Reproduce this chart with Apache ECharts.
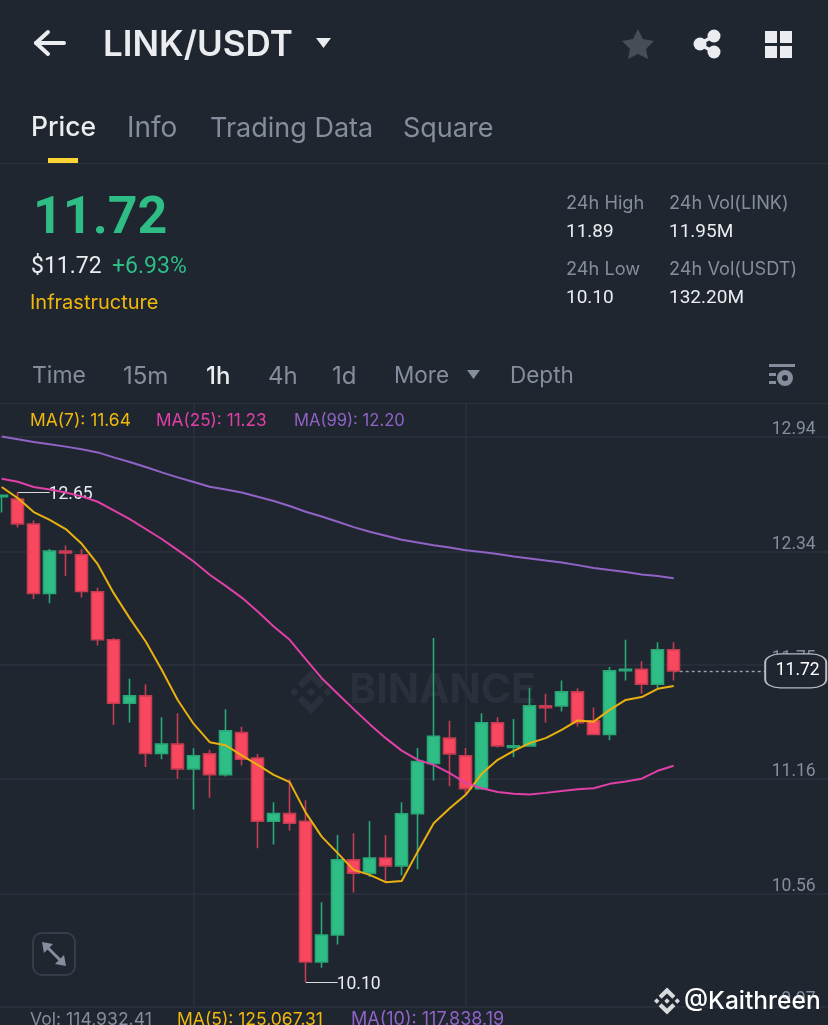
<!DOCTYPE html>
<html>
<head>
<meta charset="utf-8">
<title>LINK/USDT</title>
<script src="https://cdn.jsdelivr.net/npm/echarts@6/dist/echarts.min.js"></script>
<style>
  html, body { margin: 0; padding: 0; background: #1f2630; overflow: hidden; }
  #chart { width: 828px; height: 1025px; }
</style>
</head>
<body>
<div id="chart"></div>
<script>
// candles (oldest first)
const opens = [12.627,12.615,12.485,12.123,12.344,12.325,12.132,11.882,11.552,11.590,11.290,11.339,11.210,11.288,11.180,11.399,11.267,10.937,10.977,10.937,10.204,10.345,10.736,10.667,10.746,10.705,10.977,11.238,11.370,11.278,11.107,11.450,11.321,11.330,11.538,11.538,11.611,11.460,11.389,11.721,11.729,11.651,11.830]
const closes = [12.635,12.486,12.123,12.344,12.334,12.134,11.882,11.552,11.590,11.290,11.339,11.210,11.278,11.180,11.408,11.260,10.937,10.977,10.927,10.204,10.345,10.736,10.667,10.746,10.705,10.976,11.248,11.380,11.288,11.107,11.450,11.330,11.330,11.538,11.529,11.611,11.451,11.389,11.721,11.729,11.651,11.830,11.720]
const lows = [12.545,12.467,12.094,12.073,12.214,12.102,11.852,11.439,11.451,11.220,11.260,11.159,10.998,11.059,11.170,11.228,10.797,10.816,10.889,10.100,10.175,10.295,10.566,10.647,10.623,10.656,10.687,11.149,11.120,11.080,11.101,11.321,11.271,11.330,11.451,11.509,11.430,11.385,11.359,11.670,11.601,11.630,11.670]
const highs = [12.638,12.650,12.504,12.355,12.373,12.355,12.153,11.891,11.679,11.651,11.479,11.500,11.318,11.309,11.521,11.429,11.287,11.036,11.156,11.047,10.515,10.866,10.875,10.939,10.866,11.036,11.319,11.891,11.460,11.319,11.500,11.479,11.470,11.630,11.601,11.670,11.630,11.529,11.741,11.882,11.771,11.870,11.870]

const ma7 = [12.678,12.620,12.547,12.507,12.459,12.382,12.276,12.125,11.995,11.873,11.726,11.569,11.444,11.349,11.333,11.280,11.231,11.179,11.141,10.982,10.857,10.771,10.684,10.658,10.620,10.626,10.779,10.927,11.005,11.075,11.184,11.257,11.304,11.344,11.370,11.413,11.462,11.456,11.517,11.569,11.584,11.627,11.642]
const ma25 = [12.721,12.705,12.678,12.665,12.649,12.629,12.601,12.556,12.511,12.459,12.407,12.349,12.290,12.221,12.163,12.102,12.030,11.951,11.882,11.781,11.682,11.601,11.521,11.443,11.370,11.305,11.257,11.231,11.188,11.137,11.109,11.090,11.080,11.076,11.085,11.095,11.104,11.109,11.132,11.144,11.159,11.200,11.226]
const ma99 = [12.941,12.926,12.912,12.900,12.888,12.874,12.858,12.832,12.808,12.782,12.754,12.728,12.704,12.679,12.665,12.649,12.627,12.605,12.579,12.549,12.524,12.497,12.469,12.445,12.424,12.403,12.389,12.375,12.363,12.349,12.339,12.329,12.316,12.306,12.295,12.285,12.271,12.256,12.245,12.235,12.222,12.214,12.203]

const priceTicks = [9.97,10.56,11.16,11.75,12.34,12.94]
const slots = Array.from({ length: 53 }, (_, i) => String(i)) // 43 candles, rest is empty room on the right
const lastPrice = 11.72
const highMark = { slot: 1, end: 3, price: 12.65 }
const lowMark = { slot: 19, end: 21, price: 10.10 }
const crossSlots = [12, 29]

const BG = '#1f2630'
const GREEN = '#2ebd85'
const RED = '#f9475f'
const GRID = '#2b323c'
const GREY = '#848e9c'
const WHITE = '#eaecef'
const YELLOW = '#f0b90b'
const PINK = '#e040a8'
const PURPLE = '#9163c6'
const FONT = 'Inter, Roboto, sans-serif'
const NUM_FONT = 'Roboto, Inter, sans-serif'

const chart = echarts.init(document.getElementById('chart'), null, { renderer: 'canvas' })

function label(x, y, text, color, size, weight, z, font) {
  return {
    type: 'text', x: x, y: y + 1.5, z: z || 10,
    style: { text: text, fill: color, font: (weight || 400) + ' ' + size + 'px ' + (font || FONT), textAlign: 'left', textVerticalAlign: 'middle' }
  }
}

function num(x, y, text, color, size, weight) {
  return label(x, y, text, color, size, weight, 10, NUM_FONT)
}

function poly(points, color, z) {
  return { type: 'polygon', z: z || 10, shape: { points: points }, style: { fill: color } }
}

function stroke(points, color, width) {
  return { type: 'polyline', z: 10, shape: { points: points }, style: { stroke: color, lineWidth: width, fill: null, lineCap: 'round', lineJoin: 'round' } }
}

function disc(cx, cy, r, color) {
  return { type: 'circle', z: 10, shape: { cx: cx, cy: cy, r: r }, style: { fill: color } }
}

function box(x, y, w, h, color) {
  return { type: 'rect', z: 10, shape: { x: x, y: y, width: w, height: h }, style: { fill: color } }
}

// exchange logo, made of five pieces
function logo(cx, cy, s, color, z) {
  const at = pts => pts.map(p => [cx + p[0] * s, cy + p[1] * s])
  const diamond = (dx, r) => at([[dx, -r], [dx + r, 0], [dx, r], [dx - r, 0]])
  return [
    poly(diamond(0, 0.2), color, z),
    poly(diamond(-0.76, 0.2), color, z),
    poly(diamond(0.76, 0.2), color, z),
    poly(at([[-0.62, -0.38], [0, -1], [0.62, -0.38], [0.4, -0.16], [0, -0.56], [-0.4, -0.16]]), color, z),
    poly(at([[-0.62, 0.38], [0, 1], [0.62, 0.38], [0.4, 0.16], [0, 0.56], [-0.4, 0.16]]), color, z)
  ]
}

const headerItems = [
  // top bar
  stroke([[36, 43], [64, 43]], WHITE, 4),
  stroke([[48, 32], [36, 43], [48, 54]], WHITE, 4),
  label(103, 44, 'LINK/USDT', WHITE, 35, 600),
  poly([[316, 38], [331, 38], [323.5, 48]], WHITE),
  poly([[638, 29], [643, 39], [654, 41], [646, 49], [648, 59], [638, 54], [628, 59], [630, 49], [622, 41], [633, 39]], '#474d57'),
  stroke([[714, 36], [699, 44], [714, 52]], WHITE, 3.5),
  disc(714, 36, 6.5, WHITE),
  disc(700, 44, 6.5, WHITE),
  disc(714, 52, 6.5, WHITE),
  box(765, 31, 12, 12, WHITE),
  box(780, 31, 12, 12, WHITE),
  box(765, 46, 12, 12, WHITE),
  box(780, 46, 12, 12, WHITE),

  // tabs
  label(31, 127, 'Price', WHITE, 26.5, 500),
  label(127, 127, 'Info', GREY, 28, 400),
  label(210, 127, 'Trading Data', GREY, 27, 400),
  label(403, 127, 'Square', GREY, 27, 400),
  box(48, 158, 30, 5, '#fcd535'),
  box(0, 163, 828, 1, GRID),

  // price block
  num(33, 218, '11.72', GREEN, 52, 700),
  num(31, 266, '$11.72', WHITE, 23, 400),
  num(112, 266, '+6.93%', GREEN, 23, 400),
  label(30, 301, 'Infrastructure', YELLOW, 20, 400),
  label(566, 202, '24h High', GREY, 18.2, 400),
  num(566, 231, '11.89', WHITE, 19, 400),
  label(669, 202, '24h Vol(LINK)', GREY, 18.2, 400),
  num(669, 231, '11.95M', WHITE, 19, 400),
  label(566, 268, '24h Low', GREY, 18.2, 400),
  num(566, 297, '10.10', WHITE, 19, 400),
  label(669, 268, '24h Vol(USDT)', GREY, 18.2, 400),
  num(669, 297, '132.20M', WHITE, 19, 400),

  // intervals
  label(32, 375, 'Time', GREY, 23, 400),
  label(123, 375, '15m', GREY, 24, 400),
  label(206, 375, '1h', WHITE, 24, 500),
  label(268, 375, '4h', GREY, 24, 400),
  label(332, 375, '1d', GREY, 24, 400),
  label(394, 375, 'More', GREY, 22.5, 400),
  poly([[467, 370], [480, 370], [473.5, 379]], GREY),
  label(510, 375, 'Depth', GREY, 22.5, 400),
  box(769, 364, 26, 3, GREY),
  box(769, 373, 7, 3, GREY),
  box(769, 381, 7, 3, GREY),
  { type: 'circle', z: 10, shape: { cx: 785, cy: 378, r: 5.5 }, style: { fill: BG, stroke: GREY, lineWidth: 5 } },
  box(0, 403, 828, 1, GRID),

  // MA legend
  label(30, 419, 'MA(7): 11.64', YELLOW, 17.4, 400),
  label(156, 419, 'MA(25): 11.23', PINK, 17.2, 400),
  label(294, 419, 'MA(99): 12.20', PURPLE, 16.6, 400),

  // watermark under the candles
  label(349, 689, 'BINANCE', '#2a313c', 41, 700, -1),

  // expand button
  { type: 'rect', z: 10, shape: { x: 33, y: 933, width: 42, height: 42, r: 9 }, style: { fill: BG, stroke: '#363d48', lineWidth: 2 } },
  poly([[42, 942], [53, 944], [44, 953]], GREY),
  poly([[66, 966], [55, 964], [64, 955]], GREY),
  stroke([[46, 946], [62, 962]], GREY, 3),

  // volume line
  label(30, 1018, 'Vol: 114,932.41', GREY, 17.6, 400),
  label(177, 1018, 'MA(5): 125,067.31', YELLOW, 17.5, 400),
  label(351, 1018, 'MA(10): 117,838.19', PURPLE, 18, 400),

  // credit
  label(684, 1000, '@Kaithreen', '#ffffff', 24.5, 500, 20)
].concat(logo(311, 692, 22, '#2a313c', -1), logo(667, 1001, 13.5, '#d8dade', 20))

function maSeries(name, values, color) {
  return {
    name: name,
    type: 'line',
    data: values,
    showSymbol: false,
    smooth: false,
    z: 4,
    lineStyle: { color: color, width: 2 }
  }
}

const option = {
  animation: false,
  backgroundColor: BG,
  textStyle: { fontFamily: FONT },
  grid: { left: -6.3, top: 404, width: 848, bottom: 18, outerBoundsMode: 'none' },
  graphic: { elements: headerItems },
  xAxis: {
    type: 'category',
    data: slots,
    boundaryGap: true,
    axisLine: { show: false },
    axisTick: { show: false },
    axisLabel: { show: false },
    splitLine: { show: false }
  },
  yAxis: {
    type: 'value',
    position: 'right',
    min: 9.97,
    max: 13.11,
    axisLine: { show: false },
    axisTick: { show: false, customValues: priceTicks },
    axisLabel: {
      customValues: priceTicks,
      inside: true,
      margin: 26,
      verticalAlign: 'bottom',
      color: GREY,
      fontFamily: NUM_FONT,
      fontSize: 17.5,
      lineHeight: 14,
      formatter: v => v.toFixed(2)
    },
    splitLine: { show: true, lineStyle: { color: GRID, width: 1.5 } }
  },
  series: [
    {
      name: 'LINK/USDT',
      type: 'candlestick',
      data: opens.map((o, i) => [o, closes[i], lows[i], highs[i]]),
      barWidth: 13,
      z: 3,
      itemStyle: {
        color: GREEN,
        color0: RED,
        borderColor: '#28a877',
        borderColor0: '#c53c52',
        borderWidth: 1.6
      },
      markLine: {
        silent: true,
        symbol: 'none',
        z: 1,
        data: crossSlots.map(s => ({
          xAxis: slots[s],
          label: { show: false },
          lineStyle: { color: GRID, width: 1.5, type: 'solid' }
        })).concat([highMark, lowMark].map(m => [
          {
            coord: [slots[m.slot], m.price],
            label: { show: true, position: 'end', distance: 0, offset: [-1, 2.5], formatter: m.price.toFixed(2), color: WHITE, fontFamily: NUM_FONT, fontSize: 17.5 },
            lineStyle: { color: '#d8dade', width: 1, type: 'solid' }
          },
          { coord: [slots[m.end], m.price] }
        ]), [[
          {
            coord: [slots[42], lastPrice],
            label: { show: false },
            lineStyle: { color: '#9aa0a9', width: 1.4, type: [3, 3] }
          },
          { coord: [slots[48], lastPrice] }
        ]])
      },
      markPoint: {
        silent: true,
        z: 12,
        data: [{
          coord: [slots[49], lastPrice],
          symbol: 'roundRect',
          symbolSize: [61, 34],
          symbolOffset: [10, 0],
          itemStyle: { color: BG, borderColor: '#b7bcc4', borderWidth: 1.5 },
          label: { show: true, position: 'inside', offset: [2, 0], formatter: lastPrice.toFixed(2), color: '#ffffff', fontFamily: NUM_FONT, fontSize: 17.5 }
        }]
      }
    },
    maSeries('MA(7)', ma7, '#e9b010'),
    maSeries('MA(25)', ma25, PINK),
    maSeries('MA(99)', ma99, PURPLE)
  ]
}

chart.setOption(option)
</script>
</body>
</html>
